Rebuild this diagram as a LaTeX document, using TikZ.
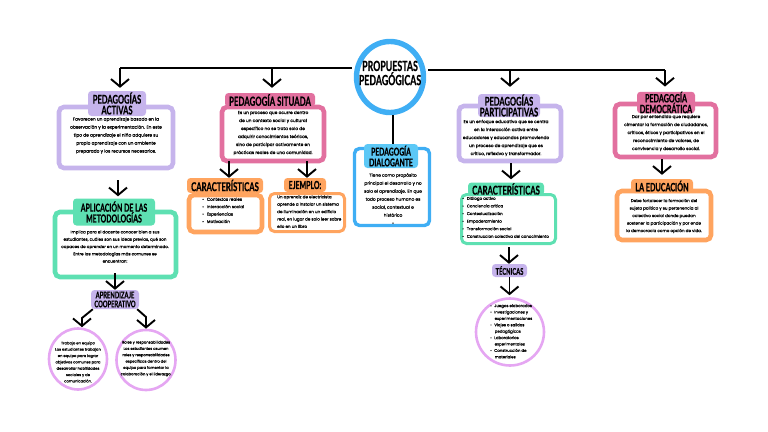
\documentclass[tikz,border=0pt]{standalone}
\usepackage{fontspec}
\setmainfont[FakeBold=0.25]{Poppins}
\newfontfamily\hdfont[FakeStretch=0.63,FakeBold=0.5]{Lato}
\usetikzlibrary{arrows.meta,shapes.geometric}
\definecolor{cPurple}{HTML}{C6B4EC}
\definecolor{cGreen}{HTML}{5EE0B2}
\definecolor{cPink}{HTML}{E2709F}
\definecolor{cOrange}{HTML}{FFA45F}
\definecolor{cBlue}{HTML}{3FAEF4}
\definecolor{cSky}{HTML}{5CC8F6}
\definecolor{cLilac}{HTML}{E5A6F2}
\newcommand{\hdsize}[1]{\hdfont\bfseries\fontsize{#1}{10.8}\selectfont}
\tikzset{
  x=1pt,y=-1pt,
  panel/.style={draw=#1,line width=4.6pt,rounded corners=5pt,fill=white,inner sep=0pt},
  head/.style={fill=#1,rounded corners=3.5pt,inner sep=0pt,align=center,text=black,font=\hdsize{12}},
  ring/.style={ellipse,draw=#1,line width=2.6pt,fill=white,inner sep=0pt},
  body/.style={inner sep=0pt,align=center,font=\fontsize{4.35}{8}\selectfont},
  small/.style={inner sep=0pt,align=center,font=\fontsize{3.7}{6.35}\selectfont},
  listing/.style={inner sep=0pt,align=left,anchor=north west,font=\fontsize{4.2}{7.4}\selectfont},
  wire/.style={line width=1.9pt,black},
  arr/.style={wire,-{Straight Barb[length=7.5pt,width=18pt,line width=1.9pt]}},
}
\begin{document}
\begin{tikzpicture}
\useasboundingbox (0,0) rectangle (768,431);
% panels
\node[panel=cPurple,minimum width=114pt,minimum height=61pt] (pAct) at (116,137.5) {};
\node[panel=cGreen,minimum width=121pt,minimum height=65pt] (pMet) at (115.5,244.5) {};
\node[panel=cPink,minimum width=102pt,minimum height=54pt] (pSit) at (273,134) {};
\node[panel=cOrange,minimum width=73pt,minimum height=37pt] (pCar) at (225.5,213.5) {};
\node[panel=cOrange,line width=3pt,minimum width=75pt,minimum height=38pt] (pEje) at (307,212.5) {};
\node[panel=cBlue,line width=3.4pt,minimum width=75pt,minimum height=77pt] (pDia) at (392,187) {};
\node[panel=cPurple,minimum width=102pt,minimum height=55pt] (pPar) at (510,133.5) {};
\node[panel=cGreen,line width=3pt,minimum width=94pt,minimum height=49pt] (pCa2) at (508.5,219) {};
\node[panel=cPink,minimum width=101pt,minimum height=53pt] (pDem) at (665.5,130.5) {};
\node[panel=cOrange,minimum width=94pt,minimum height=49pt] (pEdu) at (664,215.5) {};
% rings
\node[ring=cBlue,line width=5.4pt,minimum width=67pt,minimum height=71pt] (root) at (390,77) {};
\node[ring=cLilac,minimum width=58pt,minimum height=61pt] (cL) at (78,359) {};
\node[ring=cLilac,minimum width=59pt,minimum height=60pt] (cR) at (146,360) {};
\node[ring=cLilac,minimum width=68pt,minimum height=67pt] (cT) at (510,332) {};
% headers
\node[head=cPurple,minimum width=58pt,minimum height=25pt,font=\hdsize{12}] (hAct) at (117,103.5) {PEDAGOGÍAS\\ACTIVAS};
\node[head=cGreen,minimum width=82pt,minimum height=27pt,font=\hdsize{11}] (hMet) at (114,212) {APLICACIÓN DE LAS\\METODOLOGÍAS};
\node[head=cPurple,minimum width=48pt,minimum height=19pt,font=\hdfont\bfseries\fontsize{9.2}{9}\selectfont] (hApr) at (115,299.5) {APRENDIZAJE\\COOPERATIVO};
\node[head=cPink,minimum width=90pt,minimum height=14pt,font=\hdsize{12.5}] (hSit) at (270,100) {PEDAGOGÍA SITUADA};
\node[head=cOrange,minimum width=76pt,minimum height=15pt,font=\hdsize{12.2}] (hCar) at (225,185.5) {CARACTERÍSTICAS};
\node[head=cOrange,minimum width=42pt,minimum height=14pt,font=\hdsize{11}] (hEje) at (305,185) {EJEMPLO:};
\node[head=cSky,minimum width=54pt,minimum height=24pt,font=\hdsize{10.8}] (hDia) at (391,156) {PEDAGOGÍA\\DIALOGANTE};
\node[head=cPurple,minimum width=62pt,minimum height=23pt,font=\hdsize{12}] (hPar) at (509,105.5) {PEDAGOGÍAS\\PARTICIPATIVAS};
\node[head=cGreen,minimum width=76pt,minimum height=13pt,font=\hdsize{12.2}] (hCa2) at (506,189) {CARACTERÍSTICAS};
\node[head=cPurple,minimum width=35pt,minimum height=13pt,font=\hdsize{9.2}] (hTec) at (509.5,270.5) {TÉCNICAS};
\node[head=cPink,minimum width=58pt,minimum height=21pt,font=\hdsize{11.4}] (hDem) at (666,102.5) {PEDAGOGÍA\\DEMOCRÁTICA};
\node[head=cOrange,minimum width=62pt,minimum height=14pt,font=\hdsize{11.4}] (hEdu) at (662,186) {LA EDUCACIÓN};
\node[inner sep=0pt,align=center,font=\hdfont\bfseries\fontsize{14}{12.4}\selectfont] (tRoot) at (390,73) {PROPUESTAS\\PEDAGÓGICAS};
% body text
\node[body] (tAct) at (116,135.5) {Favorecen un aprendizaje basado en la\\observación y la experimentación. En este\\tipo de aprendizaje el niño adquiere su\\propio aprendizaje con un ambiente\\preparado y los recursos necesarios.};
\node[body,font=\fontsize{4.1}{7.3}\selectfont] (tMet) at (115,246.5) {Implica para el docente conocer bien a sus\\estudiantes, cuáles son sus ideas previas, qué son\\capaces de aprender en un momento determinado.\\Entre las metodologías más comunes se\\encuentran:};
\node[small] (tL) at (78,362) {Trabajo en equipo\\Los estudiantes trabajan\\en equipo para lograr\\objetivos comunes para\\desarrollar habilidades\\sociales y de\\comunicación.};
\node[small] (tR) at (146,358.5) {Roles y responsabilidades\\Los estudiantes asumen\\roles y responsabilidades\\específicas dentro del\\equipo para fomentar la\\colaboración y el liderazgo.};
\node[body] (tSit) at (273,133) {Es un proceso que ocurre dentro\\de un contexto social y cultural\\específico no se trata solo de\\adquirir conocimientos teóricos,\\sino de participar activamente en\\prácticas reales de una comunidad.};
\node[listing] (tCar) at (202,197.5) {\textbullet\hspace{3pt}Contextos reales\\\textbullet\hspace{3pt}Interacción social\\\textbullet\hspace{3pt}Experiencias\\\textbullet\hspace{3pt}Motivación};
\node[body,align=left,anchor=north west,font=\fontsize{4.1}{7.4}\selectfont] (tEje) at (277,195) {Un aprendiz de electricista\\aprende a instalar un sistema\\de iluminación en un edificio\\real, en lugar de solo leer sobre\\ello en un libro};
\node[body] (tDia) at (393,199) {Tiene como propósito\\principal el desarrollo y no\\solo el aprendizaje. En que\\todo proceso humano es\\social, contextual e\\histórico\\-};
\node[body] (tPar) at (506,138) {Es un enfoque educativo que se centra\\en la interacción activa entre\\educadores y educandos promoviendo\\un proceso de aprendizaje que es\\crítico, reflexivo y transformador.};
\node[listing,font=\fontsize{4}{7.6}\selectfont] (tCa2) at (462,196.5) {\textbullet\hspace{3pt}Diálogo activo\\\textbullet\hspace{3pt}Conciencia crítica\\\textbullet\hspace{3pt}Contextualización\\\textbullet\hspace{3pt}Empoderamiento\\\textbullet\hspace{3pt}Transformación social\\\textbullet\hspace{3pt}Construccion colectiva del conocimiento};
\node[listing,font=\fontsize{3.9}{6.4}\selectfont] (tTec) at (490,304) {\textbullet\hspace{2.5pt}Juegos elaborados\\\textbullet\hspace{2.5pt}Investigaciones y\\\hspace*{4.5pt}experimentaciones\\\textbullet\hspace{2.5pt}Viajes o salidas\\\hspace*{4.5pt}pedagógicas\\\textbullet\hspace{2.5pt}Laboratorios\\\hspace*{4.5pt}experimentales\\\textbullet\hspace{2.5pt}Construcción de\\\hspace*{4.5pt}materiales};
\node[body] (tDem) at (666,133) {Dar por entendido que requiere\\cimentar la formación de ciudadanos,\\críticos, éticos y participativos en el\\reconocimiento de valores, de\\convivencia y desarrollo social.};
\node[body,font=\fontsize{4.1}{7.5}\selectfont] (tEdu) at (664,216) {Debe fortalecer la formación del\\sujeto político y su pertenencia al\\colectivo social donde puedan\\sostener la participación y por ende\\la democracia como opción de vida.};
% connectors
\coordinate (busA) at (120,68);
\coordinate (busB) at (272,68);
\coordinate (busC) at (510,70);
\coordinate (busD) at (665,70);
\draw[wire,shorten <=2pt] (root.west |- busA) -- (busA);
\draw[arr,shorten >=3pt] (busA) -- (busA |- hAct.north);
\draw[arr,shorten >=5pt] (busB) -- (busB |- hSit.north);
\draw[wire,shorten <=2pt] (root.east |- busD) -- (busD);
\draw[arr,shorten >=7pt] (busC) -- (busC |- hPar.north);
\draw[arr,shorten >=5pt] (busD) -- (busD |- hDem.north);
\draw[wire] (root.south -| pDia.north) ++(1,0) coordinate (dTop) -- (dTop |- hDia.north);
\coordinate (mA) at (118,180);
\draw[arr,shorten >=2pt] (mA) -- (mA |- hMet.north);
\coordinate (mB) at (115,273);
\draw[arr] (mB) -- (mB |- hApr.north);
\coordinate (eL) at (82,318);
\coordinate (eR) at (146,317);
\draw[arr] (hApr.south west) ++(2,0) -- (eL) -- (eL |- cL.north);
\draw[arr] (hApr.south east) ++(-2,0) -- (eR) -- (eR |- cR.north);
\coordinate (sL) at (229,161);
\coordinate (sR) at (307,161);
\draw[arr] (sL) -- (sL |- hCar.north);
\draw[arr] (sR) -- (sR |- hEje.north);
\coordinate (qA) at (511,163);
\draw[arr,shorten >=3pt] (qA) -- (qA |- hCa2.north);
\coordinate (qB) at (509,247);
\draw[arr] (qB) -- (qB |- hTec.north);
\draw[arr,shorten >=2pt] (hTec.south) -- (hTec.south |- cT.north);
\coordinate (rA) at (662,159);
\draw[arr,shorten >=4pt] (rA) -- (rA |- hEdu.north);
\end{tikzpicture}
\end{document}
